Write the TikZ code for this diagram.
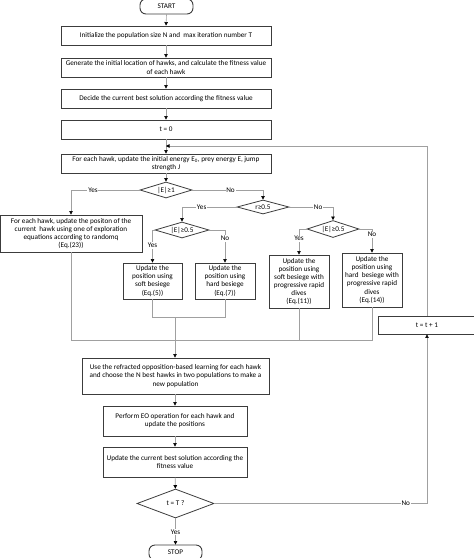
\documentclass[tikz,border=0pt]{standalone}
\usepackage{fontspec}
\setmainfont{Carlito}
\usetikzlibrary{shapes.geometric,arrows.meta}
\definecolor{boxc}{HTML}{3C3C3C}
\definecolor{linec}{HTML}{A0A0A0}
\begin{document}
\begin{tikzpicture}[x=1pt,y=-1pt,
  txt/.style={font=\fontsize{7.2}{8.1}\selectfont},
  box/.style={txt,draw=boxc,line width=0.9pt,fill=white,align=center,inner sep=1pt},
  term/.style={box,rounded corners=6pt},
  dec/.style={txt,diamond,draw=boxc,line width=0.8pt,fill=white,inner sep=0pt,aspect=4},
  conn/.style={draw=linec,line width=0.6pt},
  arr/.style={conn,-{Triangle[length=3.5pt,width=3.5pt,color=black]}},
  lab/.style={txt,fill=white,inner sep=0.8pt}]
\useasboundingbox (0,0) rectangle (474,558);
\node[term,minimum width=53pt,minimum height=15pt] (start) at (166.5,6.5) {START};
\node[box,minimum width=210pt,minimum height=19pt] (b1) at (166,35.5) {Initialize the population size N and \ max iteration number T};
\node[box,minimum width=210pt,minimum height=19pt] (b2) at (166,67.5) {Generate the initial location of hawks, and calculate the fitness value\\of each hawk};
\node[box,minimum width=210pt,minimum height=19pt] (b3) at (166,98.5) {Decide the current best solution according the fitness value};
\node[box,minimum width=210pt,minimum height=19pt] (b4) at (166,129.5) {t = 0};
\node[box,minimum width=210pt,minimum height=19pt] (b5) at (166,163.5) {For each hawk, update the initial energy E\textsubscript{0}, prey energy E, jump\\strength J};
\node[dec,minimum width=52pt,minimum height=16pt] (d1) at (166,190) {|E|≥1};
\node[dec,minimum width=52pt,minimum height=14pt] (d2) at (263,207) {r≥0.5};
\node[dec,minimum width=54pt,minimum height=16pt] (d3) at (182,230) {|E|≥0.5};
\node[dec,minimum width=52pt,minimum height=17pt] (d4) at (333,229) {|E|≥0.5};
\node[box,minimum width=142pt,minimum height=37pt] (b6) at (71,233.5) {For each hawk, update the positon of the\\current \ hawk using one of exploration\\equations according to randomq\\(Eq.(23))};
\node[box,minimum width=59pt,minimum height=36pt] (b7) at (152.5,281) {Update the\\position using\\soft besiege\\(Eq.(5))};
\node[box,minimum width=60pt,minimum height=36pt] (b8) at (225,281) {Update the\\position using\\hard besiege\\(Eq.(7))};
\node[box,minimum width=60pt,minimum height=53pt] (b9) at (299,281.5) {Update the\\position using\\soft besiege with\\progressive rapid\\dives\\(Eq.(11))};
\node[box,minimum width=60pt,minimum height=54pt] (b10) at (372,280) {Update the\\position using\\hard \ besiege with\\progressive rapid\\dives\\(Eq.(14))};
\node[box,minimum width=98pt,minimum height=18pt] (b11) at (427,325) {t = t + 1};
\node[box,minimum width=187pt,minimum height=36pt] (b12) at (175.5,376) {Use the refracted opposition-based learning for each hawk\\and choose the N best hawks in two populations to make a\\new population};
\node[box,minimum width=144pt,minimum height=30pt] (b13) at (175,421) {Perform EO operation for each hawk and\\update the positions};
\node[box,minimum width=144pt,minimum height=30pt] (b14) at (175,462) {Update the current best solution according the\\fitness value};
\node[dec,minimum width=77pt,minimum height=29pt] (d5) at (175.5,503.5) {t = T ?};
\node[term,minimum width=53pt,minimum height=15pt] (stop) at (175.5,552.5) {STOP};
% main column
\draw[arr] (start.south) -- (b1.north);
\draw[arr] (b1) -- (b2);
\draw[arr] (b2) -- (b3);
\draw[arr] (b3) -- (b4);
\draw[arr] (b4) -- (b5);
\draw[arr] (b5) -- (d1);
% decisions
\draw[arr] (d1.west) -| node[lab,pos=0.34]{Yes} (b6.north);
\draw[arr] (d1.east) -| node[lab,pos=0.27]{No} (d2.north);
\draw[arr] (d2.west) -| node[lab,pos=0.32]{Yes} (d3.north);
\draw[arr] (d2.east) -| node[lab,pos=0.33]{No} (d4.north);
\draw[arr] (d3.west) -| node[lab,pos=0.74]{Yes} (b7.north);
\draw[arr] (d3.east) -| node[lab,pos=0.63]{No} (b8.north);
\draw[arr] (d4.west) -| node[lab,pos=0.69]{Yes} (b9.north);
\draw[arr] (d4.east) -| node[lab,pos=0.62]{No} (b10.north);
% merges
\coordinate (m1) at (152.5,317);
\coordinate (m2) at (225,317);
\coordinate (mj) at (175,317);
\draw[conn] (b7.south) -- (m1) -- (m2) -- (b8.south);
\draw[arr] (mj) -- (mj |- b12.north);
\coordinate (n1) at (71,340);
\coordinate (n2) at (372,340);
\draw[conn] (b6.south) -- (n1) -- (n2) -- (b10.south);
\draw[conn] (b9.south) -- (b9.south |- n1);
% lower column
\draw[arr] (b12.south -| mj) -- (b13.north -| mj);
\draw[arr] (b13) -- (b14);
\draw[arr] (b14) -- (d5);
\draw[arr] (d5.south) -- node[lab,pos=0.52]{Yes} (stop.north);
\draw[arr] (d5.east) -| node[lab,pos=0.45]{No} (b11.south);
% feedback
\coordinate (fb) at (166,146);
\draw[arr] (b11.north) |- (fb);
\end{tikzpicture}
\end{document}
